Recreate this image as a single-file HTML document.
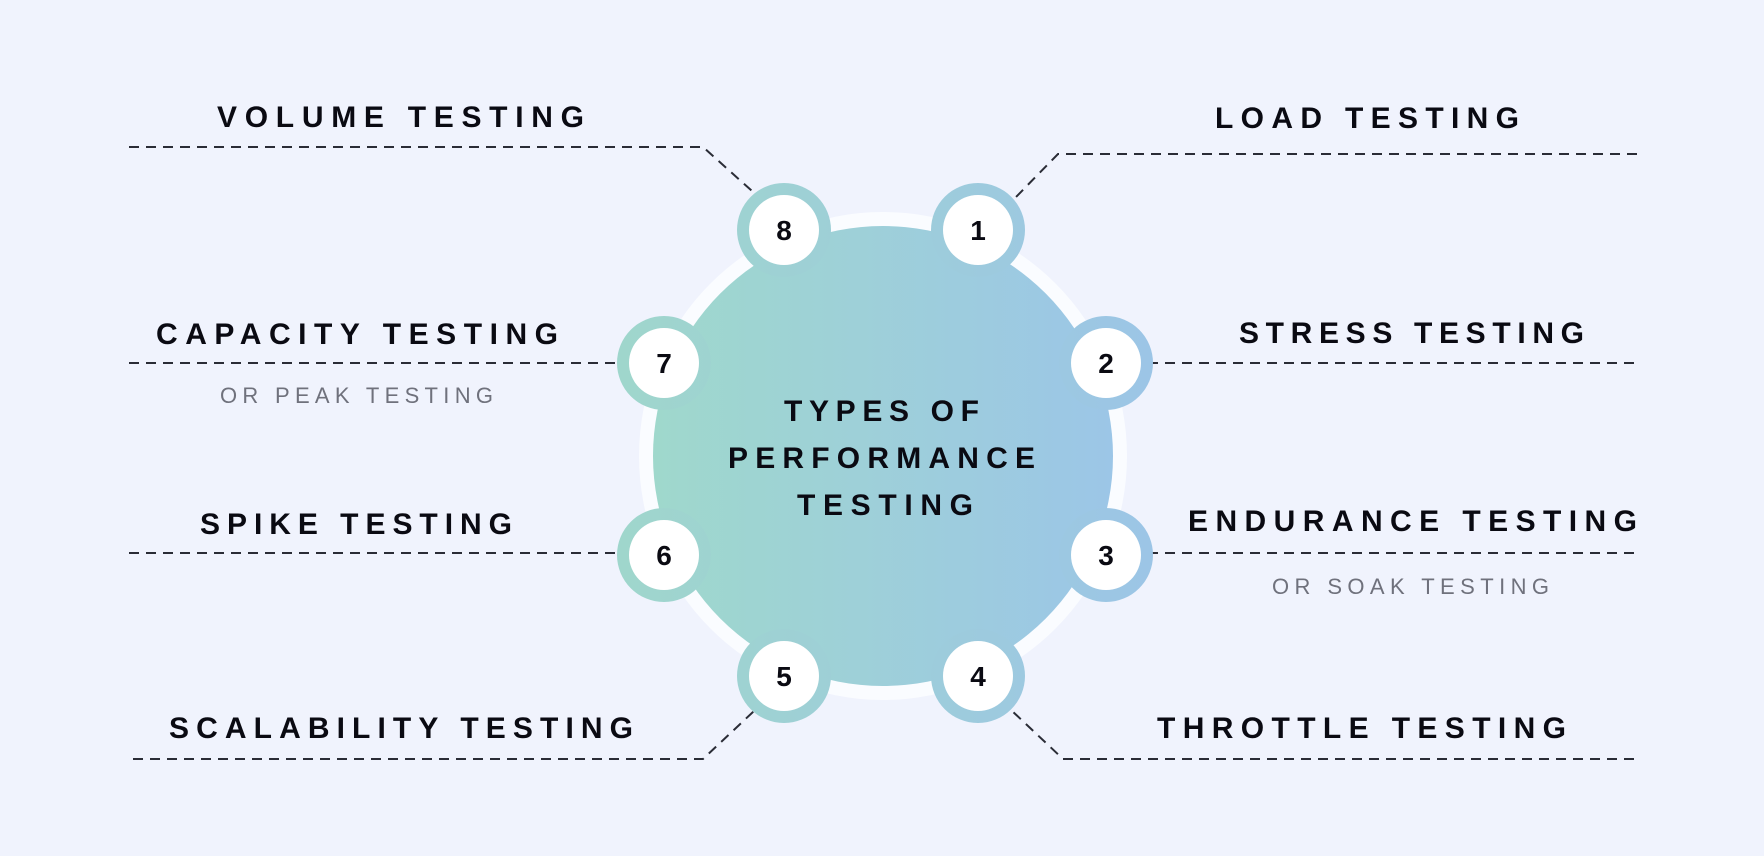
<!DOCTYPE html>
<html><head><meta charset="utf-8"><style>
html,body{margin:0;padding:0;background:#f0f3fd;}
svg{display:block;}
text{font-family:"Liberation Sans",sans-serif;font-weight:bold;fill:#0a0a12;}
.s{fill:#6f717c;font-weight:normal;}
</style></head><body>
<svg width="1764" height="856" viewBox="0 0 1764 856" xmlns="http://www.w3.org/2000/svg">
<defs>
<linearGradient id="g" x1="0" y1="0" x2="1" y2="0">
<stop offset="0" stop-color="#9fd8cc"/><stop offset="1" stop-color="#9cc6e7"/>
</linearGradient>
<linearGradient id="gu" gradientUnits="userSpaceOnUse" x1="620" y1="0" x2="1150" y2="0">
<stop offset="0" stop-color="#9fd6cc"/><stop offset="1" stop-color="#9cc5e6"/>
</linearGradient>
</defs>
<rect width="1764" height="856" fill="#f0f3fd"/>
<g fill="none" stroke="#2a2c36" stroke-width="2" stroke-dasharray="10 7">
<polyline points="129,147 703,147 752,191"/>
<polyline points="1637,154 1058,154 1016,197"/>
<line x1="129" y1="363" x2="619" y2="363"/>
<line x1="1148" y1="363" x2="1637" y2="363"/>
<line x1="129" y1="553" x2="619" y2="553"/>
<line x1="1148" y1="553" x2="1637" y2="553"/>
<polyline points="133,759 703,759 754,711"/>
<polyline points="1634,759 1063,759 1010,709"/>
</g>
<circle cx="883" cy="456" r="244" fill="#fafcff"/>
<circle cx="883" cy="456" r="230" fill="url(#g)"/>
<g fill="url(#gu)">
<circle cx="784" cy="230" r="47"/><circle cx="978" cy="230" r="47"/>
<circle cx="1106" cy="363" r="47"/><circle cx="1106" cy="555" r="47"/>
<circle cx="978" cy="676" r="47"/><circle cx="784" cy="676" r="47"/>
<circle cx="664" cy="555" r="47"/><circle cx="664" cy="363" r="47"/>
</g>
<g fill="#fff">
<circle cx="784" cy="230" r="35"/><circle cx="978" cy="230" r="35"/>
<circle cx="1106" cy="363" r="35"/><circle cx="1106" cy="555" r="35"/>
<circle cx="978" cy="676" r="35"/><circle cx="784" cy="676" r="35"/>
<circle cx="664" cy="555" r="35"/><circle cx="664" cy="363" r="35"/>
</g>
<g font-size="28" text-anchor="middle">
<text x="784" y="240">8</text><text x="978" y="240">1</text>
<text x="1106" y="373">2</text><text x="1106" y="565">3</text>
<text x="978" y="686">4</text><text x="784" y="686">5</text>
<text x="664" y="565">6</text><text x="664" y="373">7</text>
</g>
<g font-size="30">
<text x="217" y="127" textLength="367" lengthAdjust="spacing">VOLUME TESTING</text>
<text x="1215" y="128" textLength="304" lengthAdjust="spacing">LOAD TESTING</text>
<text x="156" y="344" textLength="402" lengthAdjust="spacing">CAPACITY TESTING</text>
<text x="1239" y="343" textLength="345" lengthAdjust="spacing">STRESS TESTING</text>
<text x="200" y="534" textLength="312" lengthAdjust="spacing">SPIKE TESTING</text>
<text x="1188" y="531" textLength="449" lengthAdjust="spacing">ENDURANCE TESTING</text>
<text x="169" y="738" textLength="464" lengthAdjust="spacing">SCALABILITY TESTING</text>
<text x="1157" y="738" textLength="409" lengthAdjust="spacing">THROTTLE TESTING</text>
<text x="784" y="421" textLength="195" lengthAdjust="spacing">TYPES OF</text>
<text x="728" y="468" textLength="307" lengthAdjust="spacing">PERFORMANCE</text>
<text x="797" y="515" textLength="176" lengthAdjust="spacing">TESTING</text>
</g>
<g font-size="22">
<text class="s" x="220" y="403" textLength="273" lengthAdjust="spacing">OR PEAK TESTING</text>
<text class="s" x="1272" y="594" textLength="277" lengthAdjust="spacing">OR SOAK TESTING</text>
</g>
</svg>
</body></html>
